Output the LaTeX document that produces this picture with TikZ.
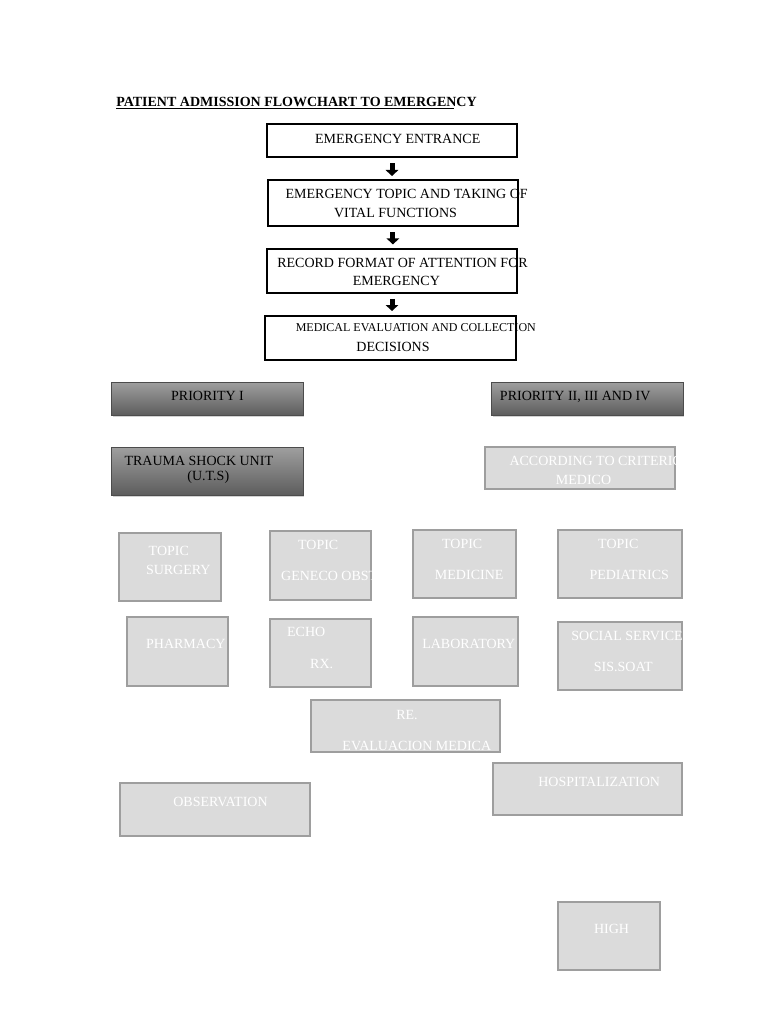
\documentclass[tikz,border=0pt]{standalone}
\usepackage{fontspec}
\setmainfont{Liberation Serif}
\usetikzlibrary{arrows.meta,shadows}

\begin{document}
\begin{tikzpicture}[x=1pt,y=-1pt,
    blackbox/.style={draw=black, line width=2pt, fill=white, inner sep=0pt},
    prioritybox/.style={draw=black!70, line width=0.6pt, top color=black!38, bottom color=black!64,
        inner sep=0pt, drop shadow={shadow xshift=0.8pt, shadow yshift=-1.6pt, opacity=0.35}},
    lightbox/.style={draw=black!38, line width=2pt, fill=black!14, inner sep=0pt},
    darktext/.style={text=black, inner sep=0pt, anchor=base, font=\fontsize{14}{16}\selectfont},
    whitetext/.style={darktext, text=white},
    blockarrow/.style={line width=5pt, -{Triangle[width=12.5pt,length=6pt]}, shorten <=5pt, shorten >=3.5pt}]

    % page
    \fill[white] (0,0) rectangle (768,1024);
    \useasboundingbox (0,0) rectangle (768,1024);

    % Title
    \node[darktext, font=\fontsize{14}{16}\selectfont\bfseries] (title) at (296.5,106.7) {PATIENT ADMISSION FLOWCHART TO EMERGENCY};
    \draw[line width=0.8pt] (title.base west) ++(0,1.6) -- ++(338,0);

    % Main column of black boxes
    \node[blackbox, minimum width=250pt, minimum height=33pt] (entrance) at (392,140.8) {};
    \node[blackbox, minimum width=250pt, minimum height=46pt] (vital) at (392.9,203.5) {};
    \node[blackbox, minimum width=250pt, minimum height=44pt] (record) at (392,270.9) {};
    \node[blackbox, minimum width=251pt, minimum height=44pt] (decision) at (390.8,337.5) {};

    \node[darktext] (entrance-txt) at (397.7,143.3) {EMERGENCY ENTRANCE};
    \node[darktext] (vital-txt1) at (406.7,198.7) {EMERGENCY TOPIC AND TAKING OF};
    \node[darktext] (vital-txt2) at (395.5,217.3) {VITAL FUNCTIONS};
    \node[darktext] (record-txt1) at (402.5,267.3) {RECORD FORMAT OF ATTENTION FOR};
    \node[darktext] (record-txt2) at (396.3,285) {EMERGENCY};
    \node[darktext, font=\fontsize{12}{14}\selectfont] (decision-txt1) at (415.8,331.7) {MEDICAL EVALUATION AND COLLECTION};
    \node[darktext] (decision-txt2) at (393,351.7) {DECISIONS};

    % Arrows between them
    \draw[blockarrow] (entrance.south) -- (entrance.south |- vital.north);
    \draw[blockarrow] (vital.south) -- (vital.south |- record.north);
    \draw[blockarrow] (record.south) -- (record.south |- decision.north);

    % Priorities
    \node[prioritybox, minimum width=191.6pt, minimum height=33.4pt] (prio1) at (207.5,399) {};
    \node[prioritybox, minimum width=191.6pt, minimum height=33.4pt] (prio2) at (587.5,399) {};
    \node[prioritybox, minimum width=191.6pt, minimum height=48pt] (trauma) at (207.5,471.7) {};
    \node[darktext] (prio1-txt) at (207.5,400) {PRIORITY I};
    \node[darktext] (prio2-txt) at (575.2,400) {PRIORITY II, III AND IV};
    \node[darktext] (trauma-txt1) at (198.8,465) {TRAUMA SHOCK UNIT};
    \node[darktext] (trauma-txt2) at (208.3,480) {(U.T.S)};

    % Light gray boxes
    \node[lightbox, minimum width=189.7pt, minimum height=42pt] (criterio) at (580.2,468) {};
    \node[lightbox, minimum width=102pt, minimum height=68.6pt] (surgery) at (170.3,567) {};
    \node[lightbox, minimum width=101.3pt, minimum height=68.7pt] (geneco) at (320.7,565.3) {};
    \node[lightbox, minimum width=103.6pt, minimum height=68.3pt] (medicine) at (464.5,564.2) {};
    \node[lightbox, minimum width=124pt, minimum height=68.3pt] (pediatrics) at (619.7,564.2) {};
    \node[lightbox, minimum width=101.6pt, minimum height=69pt] (pharmacy) at (177.5,651.2) {};
    \node[lightbox, minimum width=101.3pt, minimum height=68.6pt] (echo) at (320.7,653) {};
    \node[lightbox, minimum width=105.6pt, minimum height=69pt] (laboratory) at (465.5,651.2) {};
    \node[lightbox, minimum width=124pt, minimum height=68pt] (social) at (619.7,656) {};
    \node[lightbox, minimum width=189pt, minimum height=52pt] (reeval) at (405.5,726.3) {};
    \node[lightbox, minimum width=189pt, minimum height=51.7pt] (hospital) at (587.2,789.2) {};
    \node[lightbox, minimum width=189.4pt, minimum height=52.4pt] (observation) at (215,809.5) {};
    \node[lightbox, minimum width=101.4pt, minimum height=68pt] (high) at (609,935.7) {};

    % White labels
    \begin{scope}
        \clip (criterio.north west) rectangle (criterio.south east);
        \node[whitetext, anchor=base west] (criterio-txt1) at (509.3,465.7) {ACCORDING TO CRITERIO};
    \end{scope}
    \node[whitetext] (criterio-txt2) at (583.5,484) {MEDICO};
    \node[whitetext] (surgery-txt1) at (168.8,555) {TOPIC};
    \node[whitetext] (surgery-txt2) at (178.3,574) {SURGERY};
    \node[whitetext] (geneco-txt1) at (318.2,549) {TOPIC};
    \begin{scope}
        \clip (geneco.north west) rectangle (geneco.south east);
        \node[whitetext, anchor=base west] (geneco-txt2) at (281,580) {GENECO OBST};
    \end{scope}
    \node[whitetext] (medicine-txt1) at (462.2,548.3) {TOPIC};
    \node[whitetext] (medicine-txt2) at (469.2,579) {MEDICINE};
    \node[whitetext] (pediatrics-txt1) at (618.3,548.3) {TOPIC};
    \node[whitetext] (pediatrics-txt2) at (629.2,579) {PEDIATRICS};
    \node[whitetext] (pharmacy-txt) at (185.8,648.3) {PHARMACY};
    \node[whitetext] (echo-txt1) at (306.2,636.7) {ECHO};
    \node[whitetext] (echo-txt2) at (321.7,668.3) {RX.};
    \node[whitetext] (laboratory-txt) at (468.8,648.3) {LABORATORY};
    \node[whitetext] (social-txt1) at (627,640) {SOCIAL SERVICE};
    \node[whitetext] (social-txt2) at (623.3,671) {SIS.SOAT};
    \node[whitetext] (reeval-txt1) at (407,719.4) {RE.};
    \node[whitetext] (reeval-txt2) at (416.8,750) {EVALUACION MEDICA};
    \node[whitetext] (hospital-txt) at (599.2,786.7) {HOSPITALIZATION};
    \node[whitetext] (observation-txt) at (220.5,806.7) {OBSERVATION};
    \node[whitetext] (high-txt) at (611.5,933.3) {HIGH};

\end{tikzpicture}
\end{document}
